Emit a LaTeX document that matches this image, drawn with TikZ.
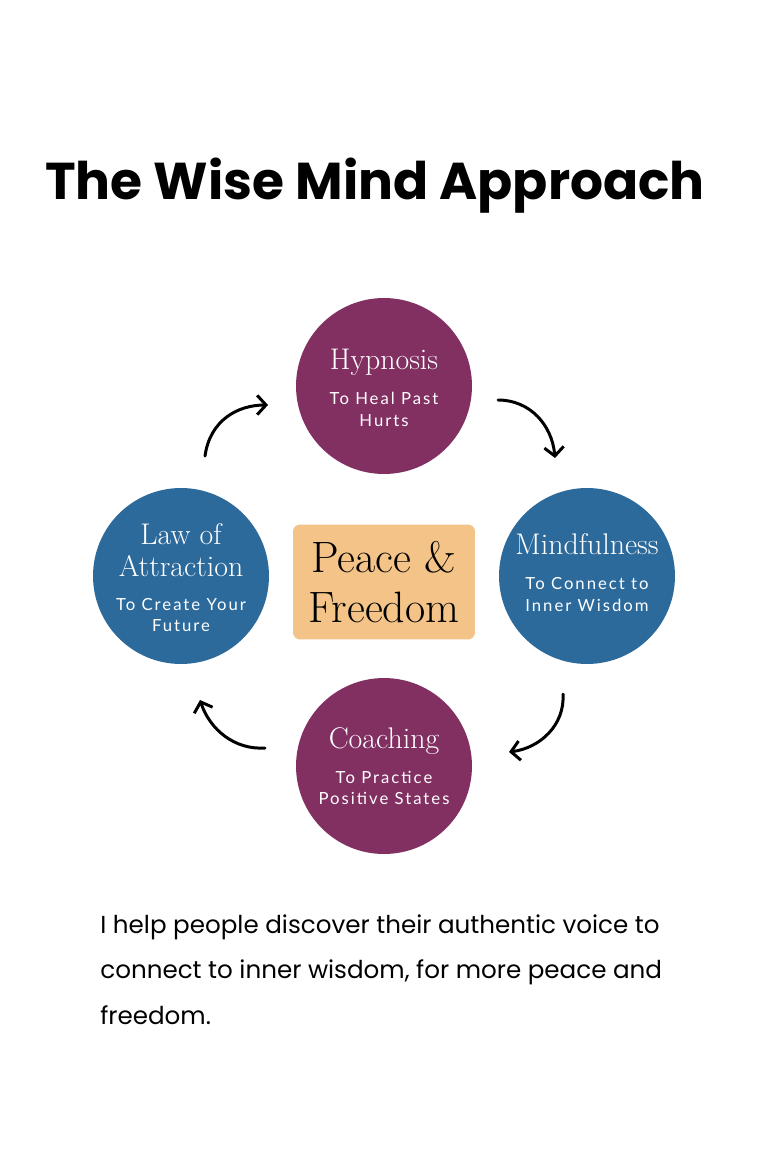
\documentclass[tikz,border=0pt]{standalone}
\usepackage{fontspec}
\usetikzlibrary{arrows.meta}
\newfontfamily\headfont{Poppins}
\newfontfamily\subfont{Lato}[LetterSpace=12]
\newfontfamily\bodyfont{Poppins}
\definecolor{plum}{HTML}{822F62}
\definecolor{steel}{HTML}{2C6A9C}
\definecolor{peach}{HTML}{F3C387}
\newcommand{\circtitle}{\fontsize{17}{17}\selectfont}
\newcommand{\circsub}{\subfont\fontsize{9.5}{11}\selectfont}
\begin{document}
\begin{tikzpicture}[x=0.02cm,y=-0.02cm,
  disc/.style={circle,minimum size=3.52cm,inner sep=0pt},
  inner/.style={align=center,text=white,inner sep=0pt},
  flow/.style={line width=1.7pt,line cap=round,-{Straight Barb[length=5pt,width=11pt,line width=1.7pt]}}]
  \useasboundingbox[fill=white] (0,0) rectangle (768,1152);
  \node[font=\headfont\bfseries\fontsize{29.5}{30}\selectfont] (title) at (375,186) {The Wise Mind Approach};
  % the four circles
  \foreach \name/\col/\x/\y in {hyp/plum/384/386,mind/steel/587/576,coach/plum/384/766,law/steel/181/576} {
    \node[disc,fill=\col] (\name) at (\x,\y) {};
  }
  \node[inner] (hyp-t) at ([yshift=-1pt]hyp) {\circtitle Hypnosis\\[8pt]\circsub To Heal Past\\\circsub Hurts};
  \node[inner] (mind-t) at ([yshift=2pt]mind) {\circtitle Mindfulness\\[8pt]\circsub To Connect to\\\circsub Inner Wisdom};
  \node[inner] (coach-t) at (coach) {\circtitle Coaching\\[8pt]\circsub To Practice\\\circsub Positive States};
  \node[inner] (law-t) at ([yshift=-1pt]law) {\circtitle Law of\\[5pt]\circtitle Attraction\\[7pt]\circsub To Create Your\\\circsub Future};
  \node[fill=peach,rounded corners=4pt,minimum width=3.64cm,minimum height=2.3cm,align=center,
    font=\fontsize{25}{28}\selectfont] (peace) at (384,582) {Peace \&\\Freedom};
  % connectors
  \coordinate (a1) at (205,456); \coordinate (b1) at (268,405);
  \coordinate (a2) at (498,400); \coordinate (b2) at (555,458);
  \coordinate (a3) at (563,694); \coordinate (b3) at (509,752);
  \coordinate (a4) at (265,748); \coordinate (b4) at (200,700);
  \draw[flow] (a1) .. controls (210,420) and (238,405) .. (b1);
  \draw[flow] (a2) .. controls (530,400) and (552,425) .. (b2);
  \draw[flow] (a3) .. controls (565,725) and (540,748) .. (b3);
  \draw[flow] (a4) .. controls (235,750) and (210,730) .. (b4);
  \node[anchor=north west,align=left,inner sep=0pt,font=\bodyfont\fontsize{14}{26}\selectfont] (blurb) at (100,914)
    {I help people discover their authentic voice to\\connect to inner wisdom, for more peace and\\freedom.};
\end{tikzpicture}
\end{document}
